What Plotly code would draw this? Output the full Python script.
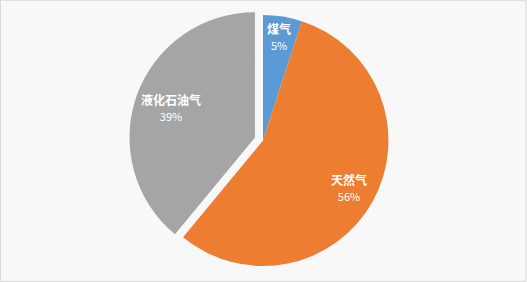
import math
import plotly.graph_objects as go

labels = ["煤气", "天然气", "液化石油气"]
values = [5, 56, 39]
colors = ["#5B9BD5", "#ED7D31", "#A5A5A5"]
pulls = [0, 0, 0.068]
label_r = [0.84, 0.78, 0.71]

W, H = 527, 282
cx, cy = 263, 140.5          # pie centre in px (from top-left)
box = 268                    # pie domain size in px
maxpull = max(pulls)
R = box / 2 / (1 + maxpull)

fig = go.Figure(go.Pie(
    labels=labels, values=values, sort=False, direction="clockwise", rotation=0,
    marker=dict(colors=colors, line=dict(width=0)), pull=pulls,
    textinfo="none", hoverinfo="label+percent", showlegend=False,
    domain=dict(x=[(cx - box / 2) / W, (cx + box / 2) / W],
                y=[(H - cy - box / 2) / H, (H - cy + box / 2) / H]),
))

total = sum(values)
start = 0.0
annotations = []
for lab, v, p, f in zip(labels, values, pulls, label_r):
    frac = v / total
    mid = math.radians((start + frac / 2) * 360)
    start += frac
    r = R * (f + p)
    x = cx + r * math.sin(mid)
    y = cy - r * math.cos(mid)
    pct = f"{round(frac * 100)}%"
    annotations.append(dict(
        x=x / W, y=1 - y / H, xref="paper", yref="paper", showarrow=False,
        xanchor="center", yanchor="middle",
        text=f"<b>{lab}</b><br><span style='font-size:11px'>{pct}</span>",
        font=dict(family="Noto Sans CJK SC, Microsoft YaHei, sans-serif", size=12, color="white"),
        align="center",
    ))

fig.update_layout(
    width=W, height=H, margin=dict(l=0, r=0, t=0, b=0),
    paper_bgcolor="#f8f8f8", plot_bgcolor="#f8f8f8",
    annotations=annotations,
    shapes=[dict(type="rect", xref="paper", yref="paper", x0=0.001, y0=0.002, x1=0.998, y1=0.999,
                 line=dict(color="#d9d9d9", width=1), fillcolor="rgba(0,0,0,0)", layer="below")],
)

fig.write_html("out.html")
